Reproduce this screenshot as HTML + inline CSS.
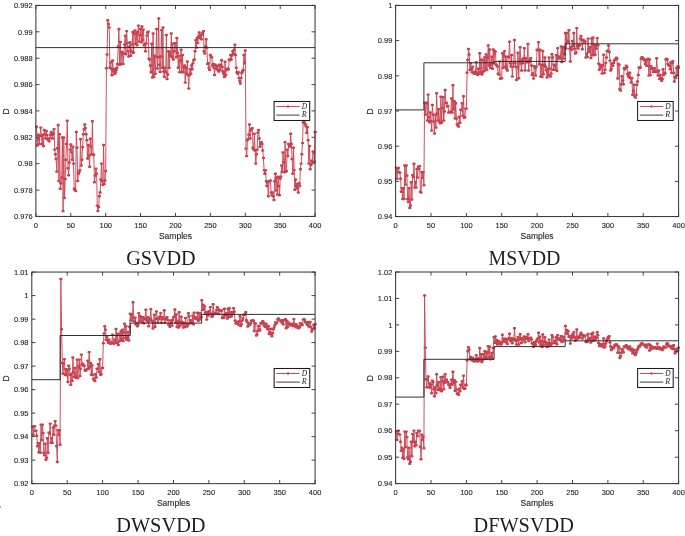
<!DOCTYPE html><html><head><meta charset="utf-8"><title>SVDD comparison</title><style>html,body{margin:0;padding:0;background:#fff}svg{display:block}</style></head><body><svg width="685" height="536" viewBox="0 0 685 536"><rect width="685" height="536" fill="#fff"/><g><polyline fill="none" stroke="#cc4856" stroke-width="0.95" stroke-linejoin="round" points="36.5,126.8 37.2,145.5 37.9,134.7 38.6,139.3 39.3,144.0 40.0,135.8 40.7,127.6 41.4,135.8 42.1,144.0 42.8,134.7 43.5,145.9 44.2,130.0 44.9,134.2 45.6,138.4 46.3,130.9 47.0,135.1 47.7,139.3 48.4,140.3 49.1,141.2 49.8,137.9 50.5,134.7 51.2,131.9 51.9,135.1 52.6,138.4 53.3,133.7 54.0,129.1 54.7,149.6 55.4,154.2 56.1,158.9 56.8,171.6 57.5,148.3 58.2,125.0 58.9,180.9 59.6,134.3 60.3,188.8 61.0,183.2 61.7,177.6 62.4,137.5 63.1,211.1 63.8,137.5 64.5,198.1 65.2,179.0 65.9,159.8 66.6,144.0 67.3,120.7 68.0,168.2 68.7,175.3 69.4,162.5 70.1,149.6 70.8,144.4 71.5,152.1 72.2,159.8 72.9,146.8 73.5,163.6 74.2,188.8 74.9,189.9 75.6,191.0 76.3,131.9 77.0,147.7 77.7,180.9 78.4,173.8 79.1,172.0 79.8,170.1 80.5,139.3 81.2,165.4 81.9,159.8 82.6,147.1 83.3,134.3 84.0,129.3 84.7,124.4 85.4,128.1 86.1,134.2 86.8,140.3 87.5,158.5 88.2,144.9 88.9,155.8 89.6,166.7 90.3,138.8 91.0,146.5 91.7,154.2 92.4,121.2 93.1,154.8 93.8,154.8 94.5,182.2 95.2,175.5 95.9,168.8 96.6,173.8 97.3,205.6 98.0,211.1 98.7,207.0 99.4,196.2 100.1,192.5 100.8,179.4 101.5,163.6 102.2,181.3 102.9,184.7 103.6,144.9 104.3,184.1 105.0,180.4 105.7,171.0 106.4,68.2 107.1,54.5 107.8,20.2 108.5,23.9 109.2,27.5 109.9,67.7 110.5,62.5 111.2,68.8 111.9,75.2 112.6,60.5 113.3,71.4 114.0,68.9 114.7,73.7 115.4,72.2 116.1,69.9 116.8,67.7 117.5,64.0 118.2,46.4 118.9,28.9 119.6,64.7 120.3,42.0 121.0,64.0 121.7,52.0 122.4,52.8 123.1,64.0 123.8,53.5 124.5,44.6 125.2,35.6 125.9,54.3 126.6,31.1 127.3,43.1 128.0,51.3 128.7,56.5 129.4,46.8 130.1,42.3 130.8,55.8 131.5,51.3 132.2,44.6 132.9,31.9 133.6,52.8 134.3,34.1 135.0,30.4 135.7,43.8 136.4,33.4 137.1,45.3 137.8,31.9 138.5,25.6 139.2,41.6 139.9,34.9 140.6,28.9 141.3,42.3 142.0,26.4 142.7,40.1 143.4,29.6 144.1,45.3 144.8,43.8 145.5,51.3 146.2,43.4 146.9,35.6 147.6,32.6 148.2,31.6 148.9,58.7 149.6,59.5 150.3,65.5 151.0,72.2 151.7,43.8 152.4,77.4 153.1,33.4 153.8,76.7 154.5,55.8 155.2,73.7 155.9,56.5 156.6,28.9 157.3,68.4 158.0,57.3 158.7,18.4 159.4,64.7 160.1,71.9 160.8,56.5 161.5,30.1 162.2,67.7 162.9,27.4 163.6,71.4 164.3,76.7 165.0,67.7 165.7,72.2 166.4,34.9 167.1,78.9 167.8,74.4 168.5,51.3 169.2,67.7 169.9,52.8 170.6,55.8 171.3,33.4 172.0,57.3 172.7,43.8 173.4,59.5 174.1,51.3 174.8,43.1 175.5,43.1 176.2,57.3 176.9,37.9 177.6,52.8 178.3,67.7 179.0,55.8 179.7,72.2 180.4,60.2 181.1,49.8 181.8,72.2 182.5,55.0 183.2,72.2 183.9,67.0 184.6,65.5 185.2,82.6 185.9,67.7 186.6,73.7 187.3,61.4 188.0,75.2 188.7,88.6 189.4,75.2 190.1,69.2 190.8,73.7 191.5,65.5 192.2,69.2 192.9,63.2 193.6,60.2 194.3,59.5 195.0,51.3 195.7,40.1 196.4,47.6 197.1,37.9 197.8,43.1 198.5,36.4 199.2,32.6 199.9,37.9 200.6,34.9 201.3,39.3 202.0,34.6 202.7,32.9 203.4,31.1 204.1,51.3 204.8,53.5 205.5,46.8 206.2,39.3 206.9,47.6 207.6,64.0 208.3,63.2 209.0,67.7 209.7,69.9 210.4,55.0 211.1,56.5 211.8,57.3 212.5,65.5 213.2,64.0 213.9,67.7 214.6,74.9 215.3,64.7 216.0,65.5 216.7,69.2 217.4,66.2 218.1,69.9 218.8,71.4 219.5,64.7 220.2,69.9 220.9,65.1 221.6,60.2 222.2,67.0 222.9,71.4 223.6,73.7 224.3,77.0 225.0,61.7 225.7,75.2 226.4,69.2 227.1,69.9 227.8,68.4 228.5,69.2 229.2,59.5 229.9,60.2 230.6,55.0 231.3,59.5 232.0,55.4 232.7,51.3 233.4,53.5 234.1,49.8 234.8,44.6 235.5,55.0 236.2,67.7 236.9,72.2 237.6,73.7 238.3,72.2 239.0,78.1 239.7,81.1 240.4,83.4 241.1,78.1 241.8,72.9 242.5,71.4 243.2,69.9 243.9,55.0 244.6,63.2 245.3,50.5 246.0,148.6 246.7,156.1 247.4,140.3 248.1,139.3 248.8,134.7 249.5,124.4 250.2,138.4 250.9,130.0 251.6,129.1 252.3,128.1 253.0,147.7 253.7,149.6 254.4,133.7 255.1,150.5 255.8,163.6 256.5,154.2 257.2,149.6 257.9,132.8 258.6,130.0 259.2,138.4 259.9,146.8 260.6,144.0 261.3,142.1 262.0,144.0 262.7,150.5 263.4,158.0 264.1,170.1 264.8,173.8 265.5,170.1 266.2,181.3 266.9,186.0 267.6,182.2 268.3,196.2 269.0,181.3 269.7,180.8 270.4,180.4 271.1,192.5 271.8,195.3 272.5,192.5 273.2,196.2 273.9,200.0 274.6,181.3 275.3,173.8 276.0,190.6 276.7,177.6 277.4,194.4 278.1,176.6 278.8,186.0 279.5,195.3 280.2,178.5 280.9,176.6 281.6,165.4 282.3,172.0 283.0,152.4 283.7,162.2 284.4,172.0 285.1,142.1 285.8,172.0 286.5,171.0 287.2,149.6 287.9,156.1 288.6,144.0 289.3,145.4 290.0,146.8 290.7,133.7 291.4,144.0 292.1,158.9 292.8,173.8 293.5,147.7 294.2,170.1 294.9,189.7 295.6,179.4 296.3,186.0 296.9,184.1 297.6,188.3 298.3,192.5 299.0,183.2 299.7,186.0 300.4,169.2 301.1,163.6 301.8,154.2 302.5,143.1 303.2,122.5 303.9,121.6 304.6,123.0 305.3,124.4 306.0,126.3 306.7,132.8 307.4,127.2 308.1,140.3 308.8,163.6 309.5,145.9 310.2,169.2 310.9,165.0 311.6,160.8 312.3,161.7 313.0,151.4 313.7,152.4 314.4,161.7 315.1,132.0"/><path d="M36.1 126.8h.9M36.8 145.5h.9M37.5 134.7h.9M38.2 139.3h.9M38.9 144.0h.9M39.6 135.8h.9M40.3 127.6h.9M41.0 135.8h.9M41.7 144.0h.9M42.4 134.7h.9M43.1 145.9h.9M43.8 130.0h.9M44.5 134.2h.9M45.2 138.4h.9M45.9 130.9h.9M46.6 135.1h.9M47.3 139.3h.9M48.0 140.3h.9M48.7 141.2h.9M49.4 137.9h.9M50.1 134.7h.9M50.8 131.9h.9M51.5 135.1h.9M52.2 138.4h.9M52.9 133.7h.9M53.6 129.1h.9M54.2 149.6h.9M54.9 154.2h.9M55.6 158.9h.9M56.3 171.6h.9M57.0 148.3h.9M57.7 125.0h.9M58.4 180.9h.9M59.1 134.3h.9M59.8 188.8h.9M60.5 183.2h.9M61.2 177.6h.9M61.9 137.5h.9M62.6 211.1h.9M63.3 137.5h.9M64.0 198.1h.9M64.7 179.0h.9M65.4 159.8h.9M66.1 144.0h.9M66.8 120.7h.9M67.5 168.2h.9M68.2 175.3h.9M68.9 162.5h.9M69.6 149.6h.9M70.3 144.4h.9M71.0 152.1h.9M71.7 159.8h.9M72.4 146.8h.9M73.1 163.6h.9M73.8 188.8h.9M74.5 189.9h.9M75.2 191.0h.9M75.9 131.9h.9M76.6 147.7h.9M77.3 180.9h.9M78.0 173.8h.9M78.7 172.0h.9M79.4 170.1h.9M80.1 139.3h.9M80.8 165.4h.9M81.5 159.8h.9M82.2 147.1h.9M82.9 134.3h.9M83.6 129.3h.9M84.3 124.4h.9M85.0 128.1h.9M85.7 134.2h.9M86.4 140.3h.9M87.1 158.5h.9M87.8 144.9h.9M88.5 155.8h.9M89.2 166.7h.9M89.9 138.8h.9M90.6 146.5h.9M91.2 154.2h.9M91.9 121.2h.9M92.6 154.8h.9M93.3 154.8h.9M94.0 182.2h.9M94.7 175.5h.9M95.4 168.8h.9M96.1 173.8h.9M96.8 205.6h.9M97.5 211.1h.9M98.2 207.0h.9M98.9 196.2h.9M99.6 192.5h.9M100.3 179.4h.9M101.0 163.6h.9M101.7 181.3h.9M102.4 184.7h.9M103.1 144.9h.9M103.8 184.1h.9M104.5 180.4h.9M105.2 171.0h.9M105.9 68.2h.9M106.6 54.5h.9M107.3 20.2h.9M108.0 23.9h.9M108.7 27.5h.9M109.4 67.7h.9M110.1 62.5h.9M110.8 68.8h.9M111.5 75.2h.9M112.2 60.5h.9M112.9 71.4h.9M113.6 68.9h.9M114.3 73.7h.9M115.0 72.2h.9M115.7 69.9h.9M116.4 67.7h.9M117.1 64.0h.9M117.8 46.4h.9M118.5 28.9h.9M119.2 64.7h.9M119.9 42.0h.9M120.6 64.0h.9M121.3 52.0h.9M122.0 52.8h.9M122.7 64.0h.9M123.4 53.5h.9M124.1 44.6h.9M124.8 35.6h.9M125.5 54.3h.9M126.2 31.1h.9M126.9 43.1h.9M127.6 51.3h.9M128.3 56.5h.9M128.9 46.8h.9M129.6 42.3h.9M130.3 55.8h.9M131.0 51.3h.9M131.7 44.6h.9M132.4 31.9h.9M133.1 52.8h.9M133.8 34.1h.9M134.5 30.4h.9M135.2 43.8h.9M135.9 33.4h.9M136.6 45.3h.9M137.3 31.9h.9M138.0 25.6h.9M138.7 41.6h.9M139.4 34.9h.9M140.1 28.9h.9M140.8 42.3h.9M141.5 26.4h.9M142.2 40.1h.9M142.9 29.6h.9M143.6 45.3h.9M144.3 43.8h.9M145.0 51.3h.9M145.7 43.4h.9M146.4 35.6h.9M147.1 32.6h.9M147.8 31.6h.9M148.5 58.7h.9M149.2 59.5h.9M149.9 65.5h.9M150.6 72.2h.9M151.3 43.8h.9M152.0 77.4h.9M152.7 33.4h.9M153.4 76.7h.9M154.1 55.8h.9M154.8 73.7h.9M155.5 56.5h.9M156.2 28.9h.9M156.9 68.4h.9M157.6 57.3h.9M158.3 18.4h.9M159.0 64.7h.9M159.7 71.9h.9M160.4 56.5h.9M161.1 30.1h.9M161.8 67.7h.9M162.5 27.4h.9M163.2 71.4h.9M163.9 76.7h.9M164.6 67.7h.9M165.3 72.2h.9M165.9 34.9h.9M166.6 78.9h.9M167.3 74.4h.9M168.0 51.3h.9M168.7 67.7h.9M169.4 52.8h.9M170.1 55.8h.9M170.8 33.4h.9M171.5 57.3h.9M172.2 43.8h.9M172.9 59.5h.9M173.6 51.3h.9M174.3 43.1h.9M175.0 43.1h.9M175.7 57.3h.9M176.4 37.9h.9M177.1 52.8h.9M177.8 67.7h.9M178.5 55.8h.9M179.2 72.2h.9M179.9 60.2h.9M180.6 49.8h.9M181.3 72.2h.9M182.0 55.0h.9M182.7 72.2h.9M183.4 67.0h.9M184.1 65.5h.9M184.8 82.6h.9M185.5 67.7h.9M186.2 73.7h.9M186.9 61.4h.9M187.6 75.2h.9M188.3 88.6h.9M189.0 75.2h.9M189.7 69.2h.9M190.4 73.7h.9M191.1 65.5h.9M191.8 69.2h.9M192.5 63.2h.9M193.2 60.2h.9M193.9 59.5h.9M194.6 51.3h.9M195.3 40.1h.9M196.0 47.6h.9M196.7 37.9h.9M197.4 43.1h.9M198.1 36.4h.9M198.8 32.6h.9M199.5 37.9h.9M200.2 34.9h.9M200.9 39.3h.9M201.6 34.6h.9M202.3 32.9h.9M203.0 31.1h.9M203.6 51.3h.9M204.3 53.5h.9M205.0 46.8h.9M205.7 39.3h.9M206.4 47.6h.9M207.1 64.0h.9M207.8 63.2h.9M208.5 67.7h.9M209.2 69.9h.9M209.9 55.0h.9M210.6 56.5h.9M211.3 57.3h.9M212.0 65.5h.9M212.7 64.0h.9M213.4 67.7h.9M214.1 74.9h.9M214.8 64.7h.9M215.5 65.5h.9M216.2 69.2h.9M216.9 66.2h.9M217.6 69.9h.9M218.3 71.4h.9M219.0 64.7h.9M219.7 69.9h.9M220.4 65.1h.9M221.1 60.2h.9M221.8 67.0h.9M222.5 71.4h.9M223.2 73.7h.9M223.9 77.0h.9M224.6 61.7h.9M225.3 75.2h.9M226.0 69.2h.9M226.7 69.9h.9M227.4 68.4h.9M228.1 69.2h.9M228.8 59.5h.9M229.5 60.2h.9M230.2 55.0h.9M230.9 59.5h.9M231.6 55.4h.9M232.3 51.3h.9M233.0 53.5h.9M233.7 49.8h.9M234.4 44.6h.9M235.1 55.0h.9M235.8 67.7h.9M236.5 72.2h.9M237.2 73.7h.9M237.9 72.2h.9M238.6 78.1h.9M239.3 81.1h.9M240.0 83.4h.9M240.6 78.1h.9M241.3 72.9h.9M242.0 71.4h.9M242.7 69.9h.9M243.4 55.0h.9M244.1 63.2h.9M244.8 50.5h.9M245.5 148.6h.9M246.2 156.1h.9M246.9 140.3h.9M247.6 139.3h.9M248.3 134.7h.9M249.0 124.4h.9M249.7 138.4h.9M250.4 130.0h.9M251.1 129.1h.9M251.8 128.1h.9M252.5 147.7h.9M253.2 149.6h.9M253.9 133.7h.9M254.6 150.5h.9M255.3 163.6h.9M256.0 154.2h.9M256.7 149.6h.9M257.4 132.8h.9M258.1 130.0h.9M258.8 138.4h.9M259.5 146.8h.9M260.2 144.0h.9M260.9 142.1h.9M261.6 144.0h.9M262.3 150.5h.9M263.0 158.0h.9M263.7 170.1h.9M264.4 173.8h.9M265.1 170.1h.9M265.8 181.3h.9M266.5 186.0h.9M267.2 182.2h.9M267.9 196.2h.9M268.6 181.3h.9M269.3 180.8h.9M270.0 180.4h.9M270.7 192.5h.9M271.4 195.3h.9M272.1 192.5h.9M272.8 196.2h.9M273.5 200.0h.9M274.2 181.3h.9M274.9 173.8h.9M275.6 190.6h.9M276.3 177.6h.9M277.0 194.4h.9M277.6 176.6h.9M278.3 186.0h.9M279.0 195.3h.9M279.7 178.5h.9M280.4 176.6h.9M281.1 165.4h.9M281.8 172.0h.9M282.5 152.4h.9M283.2 162.2h.9M283.9 172.0h.9M284.6 142.1h.9M285.3 172.0h.9M286.0 171.0h.9M286.7 149.6h.9M287.4 156.1h.9M288.1 144.0h.9M288.8 145.4h.9M289.5 146.8h.9M290.2 133.7h.9M290.9 144.0h.9M291.6 158.9h.9M292.3 173.8h.9M293.0 147.7h.9M293.7 170.1h.9M294.4 189.7h.9M295.1 179.4h.9M295.8 186.0h.9M296.5 184.1h.9M297.2 188.3h.9M297.9 192.5h.9M298.6 183.2h.9M299.3 186.0h.9M300.0 169.2h.9M300.7 163.6h.9M301.4 154.2h.9M302.1 143.1h.9M302.8 122.5h.9M303.5 121.6h.9M304.2 123.0h.9M304.9 124.4h.9M305.6 126.3h.9M306.3 132.8h.9M307.0 127.2h.9M307.7 140.3h.9M308.4 163.6h.9M309.1 145.9h.9M309.8 169.2h.9M310.5 165.0h.9M311.2 160.8h.9M311.9 161.7h.9M312.6 151.4h.9M313.3 152.4h.9M314.0 161.7h.9M314.7 132.0h.9" stroke="#c8414f" stroke-width="2.45" stroke-linecap="round" fill="none"/><polyline fill="none" stroke="#262626" stroke-width="0.95" points="35.9,47.6 315.1,47.6"/><rect x="35.85" y="5.45" width="279.2" height="211.0" fill="none" stroke="#3a3a3a" stroke-width="1.05"/><path d="M35.9 216.45v-3.6M35.9 5.45v3.6M70.8 216.45v-3.6M70.8 5.45v3.6M105.7 216.45v-3.6M105.7 5.45v3.6M140.6 216.45v-3.6M140.6 5.45v3.6M175.5 216.45v-3.6M175.5 5.45v3.6M210.4 216.45v-3.6M210.4 5.45v3.6M245.3 216.45v-3.6M245.3 5.45v3.6M280.2 216.45v-3.6M280.2 5.45v3.6M315.1 216.45v-3.6M315.1 5.45v3.6M35.85 216.4h3.6M315.1 216.4h-3.6M35.85 190.1h3.6M315.1 190.1h-3.6M35.85 163.7h3.6M315.1 163.7h-3.6M35.85 137.3h3.6M315.1 137.3h-3.6M35.85 110.9h3.6M315.1 110.9h-3.6M35.85 84.6h3.6M315.1 84.6h-3.6M35.85 58.2h3.6M315.1 58.2h-3.6M35.85 31.8h3.6M315.1 31.8h-3.6M35.85 5.4h3.6M315.1 5.4h-3.6" stroke="#3a3a3a" stroke-width="0.95" fill="none"/><g font-family="Liberation Sans, Arial, sans-serif" font-size="7.75" fill="#262626" stroke="#262626" stroke-width="0.12"><text transform="translate(35.9 227.9) scale(0.965 1)" text-anchor="middle">0</text><text transform="translate(70.8 227.9) scale(0.965 1)" text-anchor="middle">50</text><text transform="translate(105.7 227.9) scale(0.965 1)" text-anchor="middle">100</text><text transform="translate(140.6 227.9) scale(0.965 1)" text-anchor="middle">150</text><text transform="translate(175.5 227.9) scale(0.965 1)" text-anchor="middle">200</text><text transform="translate(210.4 227.9) scale(0.965 1)" text-anchor="middle">250</text><text transform="translate(245.3 227.9) scale(0.965 1)" text-anchor="middle">300</text><text transform="translate(280.2 227.9) scale(0.965 1)" text-anchor="middle">350</text><text transform="translate(315.1 227.9) scale(0.965 1)" text-anchor="middle">400</text><text transform="translate(32.6 219.1) scale(0.965 1)" text-anchor="end">0.976</text><text transform="translate(32.6 192.7) scale(0.965 1)" text-anchor="end">0.978</text><text transform="translate(32.6 166.3) scale(0.965 1)" text-anchor="end">0.98</text><text transform="translate(32.6 140.0) scale(0.965 1)" text-anchor="end">0.982</text><text transform="translate(32.6 113.6) scale(0.965 1)" text-anchor="end">0.984</text><text transform="translate(32.6 87.2) scale(0.965 1)" text-anchor="end">0.986</text><text transform="translate(32.6 60.8) scale(0.965 1)" text-anchor="end">0.988</text><text transform="translate(32.6 34.5) scale(0.965 1)" text-anchor="end">0.99</text><text transform="translate(32.6 8.1) scale(0.965 1)" text-anchor="end">0.992</text><text x="175.5" y="238.5" text-anchor="middle" font-size="8.5">Samples</text><text transform="translate(9.0 111.4) rotate(-90)" text-anchor="middle" font-size="9">D</text></g><rect x="274.1" y="101.5" width="35.6" height="19" fill="#fff" stroke="#1a1a1a" stroke-width="1.05"/><path d="M276.3 106.5h23.4" stroke="#c8414f" stroke-width="0.95"/><circle cx="288.0" cy="106.5" r="1.2" fill="#c8414f"/><path d="M276.3 115.1h23.4" stroke="#333" stroke-width="0.95"/><g font-family="Liberation Serif, serif" font-style="italic" font-size="7.3" fill="#1e1e1e"><text x="301.80" y="108.70" textLength="5.4" lengthAdjust="spacingAndGlyphs">D</text><text x="301.80" y="117.20" textLength="4.9" lengthAdjust="spacingAndGlyphs">R</text></g><text x="126.2" y="264.9" textLength="69.5" lengthAdjust="spacingAndGlyphs" font-family="Liberation Serif, serif" font-size="20.1" fill="#1e1e1e">GSVDD</text></g><g><polyline fill="none" stroke="#cc4856" stroke-width="0.95" stroke-linejoin="round" points="396.3,167.7 397.0,178.7 397.7,167.9 398.4,167.9 399.1,172.1 399.8,172.7 400.6,178.7 401.3,191.8 402.0,188.2 402.7,199.0 403.4,188.2 404.1,199.0 404.8,165.5 405.5,184.6 406.2,165.5 406.9,175.7 407.6,199.0 408.3,201.9 409.0,188.2 409.8,207.9 410.5,205.5 411.2,182.2 411.9,199.6 412.6,175.1 413.3,176.9 414.0,163.7 414.7,187.6 415.4,182.2 416.1,187.6 416.8,169.1 417.5,177.5 418.2,166.7 418.9,169.1 419.7,166.1 420.4,191.8 421.1,192.4 421.8,172.1 422.5,178.1 423.2,172.1 423.9,185.2 424.6,102.7 425.3,114.6 426.0,103.2 426.7,102.7 427.4,120.5 428.1,94.6 428.9,117.3 429.6,122.2 430.3,112.4 431.0,121.1 431.7,130.6 432.4,104.9 433.1,114.6 433.8,121.6 434.5,133.5 435.2,114.6 435.9,127.6 436.6,93.2 437.3,113.5 438.1,120.5 438.8,109.2 439.5,121.6 440.2,123.2 440.9,96.8 441.6,122.7 442.3,108.1 443.0,97.3 443.7,120.5 444.4,111.4 445.1,89.9 445.8,103.2 446.5,102.7 447.2,106.5 448.0,105.9 448.7,112.4 449.4,112.4 450.1,112.4 450.8,111.4 451.5,98.4 452.2,112.4 452.9,85.2 453.6,109.2 454.3,101.1 455.0,118.4 455.7,103.2 456.4,118.4 457.2,124.3 457.9,125.4 458.6,126.5 459.3,116.8 460.0,122.7 460.7,109.7 461.4,110.3 462.1,103.2 462.8,115.7 463.5,96.2 464.2,117.8 464.9,117.3 465.6,108.6 466.4,108.6 467.1,72.7 467.8,60.0 468.5,48.9 469.2,54.4 469.9,70.0 470.6,63.3 471.3,68.8 472.0,72.2 472.7,66.6 473.4,72.7 474.1,73.8 474.8,73.3 475.5,71.6 476.3,62.2 477.0,73.8 477.7,75.0 478.4,68.8 479.1,72.7 479.8,53.3 480.5,73.8 481.2,59.4 481.9,74.4 482.6,72.2 483.3,60.0 484.0,71.1 484.7,57.2 485.5,68.3 486.2,54.4 486.9,70.0 487.6,57.7 488.3,45.5 489.0,65.5 489.7,49.4 490.4,67.7 491.1,64.4 491.8,56.6 492.5,68.8 493.2,49.4 493.9,63.3 494.7,51.1 495.4,51.6 496.1,64.4 496.8,65.5 497.5,66.6 498.2,73.8 498.9,74.4 499.6,61.6 500.3,78.8 501.0,78.3 501.7,78.3 502.4,53.3 503.1,67.7 503.8,55.5 504.6,51.1 505.3,66.6 506.0,56.6 506.7,68.8 507.4,70.5 508.1,56.6 508.8,57.2 509.5,41.7 510.2,63.3 510.9,66.6 511.6,55.0 512.3,76.6 513.0,66.6 513.8,63.3 514.5,40.0 515.2,63.3 515.9,66.6 516.6,79.9 517.3,67.2 518.0,52.8 518.7,78.3 519.4,61.6 520.1,47.2 520.8,63.3 521.5,70.5 522.2,59.4 523.0,63.3 523.7,58.3 524.4,48.3 525.1,70.5 525.8,58.3 526.5,61.6 527.2,62.2 527.9,43.9 528.6,70.5 529.3,62.2 530.0,60.0 530.7,58.3 531.4,65.5 532.1,75.0 532.9,73.3 533.6,78.6 534.3,66.1 535.0,67.7 535.7,75.5 536.4,66.6 537.1,49.7 537.8,50.3 538.5,42.2 539.2,64.2 539.9,49.7 540.6,76.4 541.3,64.7 542.1,76.9 542.8,50.9 543.5,74.2 544.2,65.3 544.9,57.5 545.6,66.4 546.3,70.3 547.0,77.5 547.7,68.6 548.4,75.3 549.1,57.5 549.8,68.6 550.5,76.4 551.2,73.6 552.0,54.2 552.7,57.5 553.4,69.7 554.1,64.7 554.8,65.8 555.5,69.7 556.2,55.3 556.9,70.8 557.6,48.1 558.3,58.6 559.0,56.4 559.7,58.1 560.4,58.6 561.2,46.4 561.9,62.0 562.6,47.0 563.3,58.6 564.0,47.5 564.7,54.2 565.4,33.1 566.1,48.6 566.8,33.1 567.5,42.0 568.2,41.4 568.9,30.3 569.6,48.6 570.4,61.4 571.1,47.0 571.8,49.7 572.5,40.9 573.2,45.9 573.9,33.1 574.6,48.6 575.3,53.6 576.0,52.5 576.7,28.1 577.4,45.9 578.1,48.6 578.8,45.9 579.5,45.3 580.3,38.6 581.0,35.9 581.7,39.8 582.4,49.2 583.1,39.8 583.8,40.3 584.5,42.0 585.2,41.4 585.9,57.5 586.6,53.6 587.3,57.0 588.0,38.6 588.7,49.2 589.5,52.0 590.2,47.0 590.9,58.1 591.6,38.6 592.3,55.3 593.0,37.5 593.7,55.3 594.4,45.3 595.1,54.7 595.8,45.9 596.5,48.6 597.2,38.1 597.9,45.3 598.7,63.6 599.4,69.7 600.1,64.7 600.8,67.5 601.5,65.8 602.2,73.6 602.9,65.3 603.6,54.7 604.3,73.1 605.0,69.7 605.7,63.1 606.4,57.5 607.1,50.9 607.9,50.7 608.6,45.5 609.3,51.9 610.0,60.6 610.7,70.4 611.4,68.7 612.1,63.4 612.8,65.8 613.5,62.9 614.2,60.6 614.9,59.4 615.6,59.4 616.3,57.7 617.0,58.8 617.8,78.5 618.5,64.0 619.2,64.6 619.9,88.9 620.6,90.6 621.3,84.3 622.0,76.2 622.7,80.8 623.4,84.3 624.1,68.1 624.8,69.2 625.5,68.1 626.2,65.8 627.0,66.9 627.7,73.9 628.4,76.2 629.1,77.3 629.8,72.7 630.5,77.9 631.2,82.5 631.9,77.9 632.6,94.7 633.3,91.2 634.0,84.8 634.7,96.4 635.4,97.6 636.2,94.7 636.9,84.8 637.6,81.4 638.3,75.0 639.0,67.5 639.7,68.1 640.4,67.5 641.1,58.8 641.8,57.1 642.5,57.7 643.2,58.8 643.9,59.4 644.6,60.6 645.3,64.0 646.1,60.0 646.8,65.8 647.5,59.4 648.2,58.8 648.9,75.6 649.6,59.4 650.3,75.0 651.0,66.3 651.7,68.7 652.4,68.1 653.1,72.1 653.8,69.2 654.5,68.1 655.3,71.5 656.0,72.1 656.7,58.2 657.4,71.0 658.1,75.6 658.8,70.4 659.5,79.1 660.2,75.0 660.9,77.9 661.6,80.8 662.3,79.1 663.0,69.2 663.7,75.0 664.5,72.7 665.2,73.3 665.9,59.4 666.6,58.8 667.3,59.4 668.0,64.0 668.7,65.2 669.4,65.8 670.1,69.2 670.8,62.3 671.5,72.7 672.2,62.9 672.9,61.1 673.6,72.7 674.4,81.4 675.1,77.3 675.8,77.9 676.5,68.1 677.2,75.0 677.9,66.3 678.6,67.5"/><path d="M395.9 167.7h.9M396.6 178.7h.9M397.3 167.9h.9M398.0 167.9h.9M398.7 172.1h.9M399.4 172.7h.9M400.1 178.7h.9M400.8 191.8h.9M401.5 188.2h.9M402.2 199.0h.9M402.9 188.2h.9M403.6 199.0h.9M404.3 165.5h.9M405.1 184.6h.9M405.8 165.5h.9M406.5 175.7h.9M407.2 199.0h.9M407.9 201.9h.9M408.6 188.2h.9M409.3 207.9h.9M410.0 205.5h.9M410.7 182.2h.9M411.4 199.6h.9M412.1 175.1h.9M412.8 176.9h.9M413.5 163.7h.9M414.3 187.6h.9M415.0 182.2h.9M415.7 187.6h.9M416.4 169.1h.9M417.1 177.5h.9M417.8 166.7h.9M418.5 169.1h.9M419.2 166.1h.9M419.9 191.8h.9M420.6 192.4h.9M421.3 172.1h.9M422.0 178.1h.9M422.7 172.1h.9M423.5 185.2h.9M424.2 102.7h.9M424.9 114.6h.9M425.6 103.2h.9M426.3 102.7h.9M427.0 120.5h.9M427.7 94.6h.9M428.4 117.3h.9M429.1 122.2h.9M429.8 112.4h.9M430.5 121.1h.9M431.2 130.6h.9M431.9 104.9h.9M432.6 114.6h.9M433.4 121.6h.9M434.1 133.5h.9M434.8 114.6h.9M435.5 127.6h.9M436.2 93.2h.9M436.9 113.5h.9M437.6 120.5h.9M438.3 109.2h.9M439.0 121.6h.9M439.7 123.2h.9M440.4 96.8h.9M441.1 122.7h.9M441.8 108.1h.9M442.6 97.3h.9M443.3 120.5h.9M444.0 111.4h.9M444.7 89.9h.9M445.4 103.2h.9M446.1 102.7h.9M446.8 106.5h.9M447.5 105.9h.9M448.2 112.4h.9M448.9 112.4h.9M449.6 112.4h.9M450.3 111.4h.9M451.0 98.4h.9M451.8 112.4h.9M452.5 85.2h.9M453.2 109.2h.9M453.9 101.1h.9M454.6 118.4h.9M455.3 103.2h.9M456.0 118.4h.9M456.7 124.3h.9M457.4 125.4h.9M458.1 126.5h.9M458.8 116.8h.9M459.5 122.7h.9M460.2 109.7h.9M460.9 110.3h.9M461.7 103.2h.9M462.4 115.7h.9M463.1 96.2h.9M463.8 117.8h.9M464.5 117.3h.9M465.2 108.6h.9M465.9 108.6h.9M466.6 72.7h.9M467.3 60.0h.9M468.0 48.9h.9M468.7 54.4h.9M469.4 70.0h.9M470.1 63.3h.9M470.9 68.8h.9M471.6 72.2h.9M472.3 66.6h.9M473.0 72.7h.9M473.7 73.8h.9M474.4 73.3h.9M475.1 71.6h.9M475.8 62.2h.9M476.5 73.8h.9M477.2 75.0h.9M477.9 68.8h.9M478.6 72.7h.9M479.3 53.3h.9M480.1 73.8h.9M480.8 59.4h.9M481.5 74.4h.9M482.2 72.2h.9M482.9 60.0h.9M483.6 71.1h.9M484.3 57.2h.9M485.0 68.3h.9M485.7 54.4h.9M486.4 70.0h.9M487.1 57.7h.9M487.8 45.5h.9M488.5 65.5h.9M489.2 49.4h.9M490.0 67.7h.9M490.7 64.4h.9M491.4 56.6h.9M492.1 68.8h.9M492.8 49.4h.9M493.5 63.3h.9M494.2 51.1h.9M494.9 51.6h.9M495.6 64.4h.9M496.3 65.5h.9M497.0 66.6h.9M497.7 73.8h.9M498.4 74.4h.9M499.2 61.6h.9M499.9 78.8h.9M500.6 78.3h.9M501.3 78.3h.9M502.0 53.3h.9M502.7 67.7h.9M503.4 55.5h.9M504.1 51.1h.9M504.8 66.6h.9M505.5 56.6h.9M506.2 68.8h.9M506.9 70.5h.9M507.6 56.6h.9M508.4 57.2h.9M509.1 41.7h.9M509.8 63.3h.9M510.5 66.6h.9M511.2 55.0h.9M511.9 76.6h.9M512.6 66.6h.9M513.3 63.3h.9M514.0 40.0h.9M514.7 63.3h.9M515.4 66.6h.9M516.1 79.9h.9M516.8 67.2h.9M517.5 52.8h.9M518.3 78.3h.9M519.0 61.6h.9M519.7 47.2h.9M520.4 63.3h.9M521.1 70.5h.9M521.8 59.4h.9M522.5 63.3h.9M523.2 58.3h.9M523.9 48.3h.9M524.6 70.5h.9M525.3 58.3h.9M526.0 61.6h.9M526.7 62.2h.9M527.5 43.9h.9M528.2 70.5h.9M528.9 62.2h.9M529.6 60.0h.9M530.3 58.3h.9M531.0 65.5h.9M531.7 75.0h.9M532.4 73.3h.9M533.1 78.6h.9M533.8 66.1h.9M534.5 67.7h.9M535.2 75.5h.9M535.9 66.6h.9M536.6 49.7h.9M537.4 50.3h.9M538.1 42.2h.9M538.8 64.2h.9M539.5 49.7h.9M540.2 76.4h.9M540.9 64.7h.9M541.6 76.9h.9M542.3 50.9h.9M543.0 74.2h.9M543.7 65.3h.9M544.4 57.5h.9M545.1 66.4h.9M545.8 70.3h.9M546.6 77.5h.9M547.3 68.6h.9M548.0 75.3h.9M548.7 57.5h.9M549.4 68.6h.9M550.1 76.4h.9M550.8 73.6h.9M551.5 54.2h.9M552.2 57.5h.9M552.9 69.7h.9M553.6 64.7h.9M554.3 65.8h.9M555.0 69.7h.9M555.8 55.3h.9M556.5 70.8h.9M557.2 48.1h.9M557.9 58.6h.9M558.6 56.4h.9M559.3 58.1h.9M560.0 58.6h.9M560.7 46.4h.9M561.4 62.0h.9M562.1 47.0h.9M562.8 58.6h.9M563.5 47.5h.9M564.2 54.2h.9M565.0 33.1h.9M565.7 48.6h.9M566.4 33.1h.9M567.1 42.0h.9M567.8 41.4h.9M568.5 30.3h.9M569.2 48.6h.9M569.9 61.4h.9M570.6 47.0h.9M571.3 49.7h.9M572.0 40.9h.9M572.7 45.9h.9M573.4 33.1h.9M574.1 48.6h.9M574.9 53.6h.9M575.6 52.5h.9M576.3 28.1h.9M577.0 45.9h.9M577.7 48.6h.9M578.4 45.9h.9M579.1 45.3h.9M579.8 38.6h.9M580.5 35.9h.9M581.2 39.8h.9M581.9 49.2h.9M582.6 39.8h.9M583.3 40.3h.9M584.1 42.0h.9M584.8 41.4h.9M585.5 57.5h.9M586.2 53.6h.9M586.9 57.0h.9M587.6 38.6h.9M588.3 49.2h.9M589.0 52.0h.9M589.7 47.0h.9M590.4 58.1h.9M591.1 38.6h.9M591.8 55.3h.9M592.5 37.5h.9M593.2 55.3h.9M594.0 45.3h.9M594.7 54.7h.9M595.4 45.9h.9M596.1 48.6h.9M596.8 38.1h.9M597.5 45.3h.9M598.2 63.6h.9M598.9 69.7h.9M599.6 64.7h.9M600.3 67.5h.9M601.0 65.8h.9M601.7 73.6h.9M602.4 65.3h.9M603.2 54.7h.9M603.9 73.1h.9M604.6 69.7h.9M605.3 63.1h.9M606.0 57.5h.9M606.7 50.9h.9M607.4 50.7h.9M608.1 45.5h.9M608.8 51.9h.9M609.5 60.6h.9M610.2 70.4h.9M610.9 68.7h.9M611.6 63.4h.9M612.4 65.8h.9M613.1 62.9h.9M613.8 60.6h.9M614.5 59.4h.9M615.2 59.4h.9M615.9 57.7h.9M616.6 58.8h.9M617.3 78.5h.9M618.0 64.0h.9M618.7 64.6h.9M619.4 88.9h.9M620.1 90.6h.9M620.8 84.3h.9M621.5 76.2h.9M622.3 80.8h.9M623.0 84.3h.9M623.7 68.1h.9M624.4 69.2h.9M625.1 68.1h.9M625.8 65.8h.9M626.5 66.9h.9M627.2 73.9h.9M627.9 76.2h.9M628.6 77.3h.9M629.3 72.7h.9M630.0 77.9h.9M630.7 82.5h.9M631.5 77.9h.9M632.2 94.7h.9M632.9 91.2h.9M633.6 84.8h.9M634.3 96.4h.9M635.0 97.6h.9M635.7 94.7h.9M636.4 84.8h.9M637.1 81.4h.9M637.8 75.0h.9M638.5 67.5h.9M639.2 68.1h.9M639.9 67.5h.9M640.7 58.8h.9M641.4 57.1h.9M642.1 57.7h.9M642.8 58.8h.9M643.5 59.4h.9M644.2 60.6h.9M644.9 64.0h.9M645.6 60.0h.9M646.3 65.8h.9M647.0 59.4h.9M647.7 58.8h.9M648.4 75.6h.9M649.1 59.4h.9M649.8 75.0h.9M650.6 66.3h.9M651.3 68.7h.9M652.0 68.1h.9M652.7 72.1h.9M653.4 69.2h.9M654.1 68.1h.9M654.8 71.5h.9M655.5 72.1h.9M656.2 58.2h.9M656.9 71.0h.9M657.6 75.6h.9M658.3 70.4h.9M659.0 79.1h.9M659.8 75.0h.9M660.5 77.9h.9M661.2 80.8h.9M661.9 79.1h.9M662.6 69.2h.9M663.3 75.0h.9M664.0 72.7h.9M664.7 73.3h.9M665.4 59.4h.9M666.1 58.8h.9M666.8 59.4h.9M667.5 64.0h.9M668.2 65.2h.9M669.0 65.8h.9M669.7 69.2h.9M670.4 62.3h.9M671.1 72.7h.9M671.8 62.9h.9M672.5 61.1h.9M673.2 72.7h.9M673.9 81.4h.9M674.6 77.3h.9M675.3 77.9h.9M676.0 68.1h.9M676.7 75.0h.9M677.4 66.3h.9M678.1 67.5h.9" stroke="#c8414f" stroke-width="2.45" stroke-linecap="round" fill="none"/><polyline fill="none" stroke="#262626" stroke-width="0.95" points="395.6,109.9 423.9,109.9 423.9,62.8 494.1,62.8 494.1,61.4 565.2,61.4 565.2,43.8 678.6,43.8"/><rect x="395.6" y="5.45" width="283.0" height="211.1" fill="none" stroke="#3a3a3a" stroke-width="1.05"/><path d="M395.6 216.55v-3.6M395.6 5.45v3.6M431.0 216.55v-3.6M431.0 5.45v3.6M466.4 216.55v-3.6M466.4 5.45v3.6M501.7 216.55v-3.6M501.7 5.45v3.6M537.1 216.55v-3.6M537.1 5.45v3.6M572.5 216.55v-3.6M572.5 5.45v3.6M607.9 216.55v-3.6M607.9 5.45v3.6M643.2 216.55v-3.6M643.2 5.45v3.6M678.6 216.55v-3.6M678.6 5.45v3.6M395.6 216.6h3.6M678.6 216.6h-3.6M395.6 181.4h3.6M678.6 181.4h-3.6M395.6 146.2h3.6M678.6 146.2h-3.6M395.6 111.0h3.6M678.6 111.0h-3.6M395.6 75.8h3.6M678.6 75.8h-3.6M395.6 40.6h3.6M678.6 40.6h-3.6M395.6 5.4h3.6M678.6 5.4h-3.6" stroke="#3a3a3a" stroke-width="0.95" fill="none"/><g font-family="Liberation Sans, Arial, sans-serif" font-size="7.75" fill="#262626" stroke="#262626" stroke-width="0.12"><text transform="translate(395.6 228.0) scale(0.965 1)" text-anchor="middle">0</text><text transform="translate(431.0 228.0) scale(0.965 1)" text-anchor="middle">50</text><text transform="translate(466.4 228.0) scale(0.965 1)" text-anchor="middle">100</text><text transform="translate(501.7 228.0) scale(0.965 1)" text-anchor="middle">150</text><text transform="translate(537.1 228.0) scale(0.965 1)" text-anchor="middle">200</text><text transform="translate(572.5 228.0) scale(0.965 1)" text-anchor="middle">250</text><text transform="translate(607.9 228.0) scale(0.965 1)" text-anchor="middle">300</text><text transform="translate(643.2 228.0) scale(0.965 1)" text-anchor="middle">350</text><text transform="translate(678.6 228.0) scale(0.965 1)" text-anchor="middle">400</text><text transform="translate(392.3 219.2) scale(0.965 1)" text-anchor="end">0.94</text><text transform="translate(392.3 184.0) scale(0.965 1)" text-anchor="end">0.95</text><text transform="translate(392.3 148.8) scale(0.965 1)" text-anchor="end">0.96</text><text transform="translate(392.3 113.7) scale(0.965 1)" text-anchor="end">0.97</text><text transform="translate(392.3 78.5) scale(0.965 1)" text-anchor="end">0.98</text><text transform="translate(392.3 43.3) scale(0.965 1)" text-anchor="end">0.99</text><text transform="translate(392.3 8.1) scale(0.965 1)" text-anchor="end">1</text><text x="537.1" y="238.7" text-anchor="middle" font-size="8.5">Samples</text><text transform="translate(372.5 111.5) rotate(-90)" text-anchor="middle" font-size="9">D</text></g><rect x="637.6" y="101.5" width="35.6" height="19" fill="#fff" stroke="#1a1a1a" stroke-width="1.05"/><path d="M639.8000000000001 106.5h23.4" stroke="#c8414f" stroke-width="0.95"/><circle cx="651.5" cy="106.5" r="1.2" fill="#c8414f"/><path d="M639.8000000000001 115.1h23.4" stroke="#333" stroke-width="0.95"/><g font-family="Liberation Serif, serif" font-style="italic" font-size="7.3" fill="#1e1e1e"><text x="665.30" y="108.70" textLength="5.4" lengthAdjust="spacingAndGlyphs">D</text><text x="665.30" y="117.20" textLength="4.9" lengthAdjust="spacingAndGlyphs">R</text></g><text x="488.6" y="264.9" textLength="71.8" lengthAdjust="spacingAndGlyphs" font-family="Liberation Serif, serif" font-size="20.1" fill="#1e1e1e">MSVDD</text></g><g><polyline fill="none" stroke="#cc4856" stroke-width="0.95" stroke-linejoin="round" points="32.5,426.6 33.2,434.7 33.9,426.3 34.6,426.1 35.3,431.1 36.1,430.6 36.8,435.7 37.5,446.2 38.2,443.2 38.9,452.3 39.6,443.2 40.3,452.8 41.0,424.6 41.7,440.2 42.4,424.6 43.1,433.1 43.8,452.8 44.6,455.3 45.3,443.7 46.0,459.8 46.7,457.8 47.4,438.2 48.1,452.8 48.8,432.6 49.5,433.6 50.2,423.6 50.9,442.7 51.6,438.2 52.3,442.7 53.1,427.6 53.8,434.7 54.5,425.6 55.2,421.1 55.9,425.6 56.6,446.2 57.3,461.9 58.0,430.1 58.7,434.7 59.4,430.1 60.1,444.7 60.8,279.0 61.6,329.2 62.3,363.0 63.0,373.6 63.7,363.6 64.4,359.3 65.1,374.7 65.8,369.1 66.5,375.3 67.2,369.7 67.9,382.0 68.6,365.8 69.3,368.6 70.1,374.7 70.8,384.8 71.5,373.6 72.2,380.9 72.9,357.4 73.6,372.5 74.3,377.0 75.0,368.0 75.7,377.0 76.4,378.1 77.1,359.6 77.8,378.1 78.6,366.4 79.3,359.6 80.0,375.9 80.7,368.6 81.4,354.6 82.1,364.7 82.8,363.6 83.5,365.8 84.2,365.8 84.9,370.3 85.6,370.8 86.3,369.7 87.1,369.1 87.8,360.8 88.5,369.1 89.2,352.1 89.9,366.9 90.6,363.0 91.3,374.7 92.0,365.2 92.7,374.7 93.4,379.2 94.1,378.7 94.8,380.9 95.6,374.2 96.3,377.5 97.0,368.6 97.7,369.1 98.4,364.1 99.1,371.9 99.8,359.3 100.5,374.7 101.2,374.2 101.9,368.0 102.6,368.0 103.3,343.3 104.1,333.6 104.8,326.2 105.5,329.6 106.2,339.8 106.9,337.0 107.6,340.4 108.3,342.7 109.0,339.8 109.7,342.7 110.4,343.8 111.1,343.3 111.8,342.1 112.6,334.7 113.3,343.3 114.0,343.8 114.7,339.8 115.4,342.7 116.1,329.0 116.8,342.7 117.5,333.6 118.2,345.0 118.9,341.6 119.6,333.6 120.3,340.4 121.1,331.3 121.8,339.3 122.5,329.6 123.2,341.0 123.9,332.4 124.6,323.7 125.3,338.1 126.0,326.2 126.7,339.8 127.4,337.6 128.1,331.9 128.8,340.4 129.6,326.8 130.3,313.7 131.0,320.5 131.7,314.2 132.4,320.5 133.1,302.3 133.8,317.6 134.5,321.6 135.2,317.6 135.9,324.5 136.6,323.3 137.3,326.2 138.1,325.0 138.8,313.1 139.5,321.6 140.2,315.9 140.9,321.6 141.6,317.6 142.3,322.2 143.0,317.1 143.7,323.3 144.4,318.8 145.1,318.2 145.8,309.7 146.6,319.9 147.3,321.6 148.0,317.1 148.7,326.2 149.4,320.5 150.1,318.8 150.8,309.1 151.5,320.5 152.2,321.6 152.9,328.5 153.6,321.6 154.3,314.8 155.1,326.8 155.8,318.8 156.5,311.4 157.2,318.8 157.9,322.8 158.6,317.6 159.3,319.3 160.0,316.5 160.7,313.1 161.4,322.8 162.1,317.1 162.8,318.8 163.6,319.3 164.3,310.2 165.0,322.8 165.7,318.8 166.4,317.6 167.1,317.1 167.8,319.9 168.5,324.5 169.2,323.9 169.9,326.8 170.6,320.5 171.3,321.6 172.1,325.6 172.8,319.9 173.5,317.3 174.2,316.8 174.9,309.4 175.6,322.5 176.3,314.5 177.0,327.0 177.7,320.8 178.4,327.6 179.1,312.2 179.9,325.9 180.6,321.9 181.3,316.8 182.0,321.9 182.7,324.2 183.4,327.6 184.1,323.0 184.8,327.0 185.5,317.9 186.2,323.6 186.9,326.4 187.6,325.3 188.4,313.3 189.1,316.2 189.8,323.6 190.5,320.2 191.2,320.8 191.9,323.0 192.6,315.6 193.3,324.2 194.0,312.8 194.7,318.5 195.4,317.3 196.1,318.5 196.9,319.0 197.6,312.8 198.3,320.8 199.0,313.3 199.7,319.6 200.4,313.3 201.1,317.3 201.8,300.3 202.5,309.9 203.2,304.8 203.9,309.4 204.6,306.5 205.4,312.8 206.1,312.2 206.8,319.6 207.5,312.8 208.2,315.6 208.9,311.1 209.6,312.8 210.3,307.1 211.0,313.9 211.7,316.8 212.4,316.2 213.1,304.2 213.9,312.8 214.6,313.9 215.3,312.8 216.0,312.8 216.7,309.9 217.4,307.1 218.1,309.4 218.8,313.9 219.5,309.9 220.2,310.5 220.9,311.1 221.6,310.5 222.4,317.9 223.1,316.8 223.8,317.9 224.5,308.8 225.2,314.5 225.9,315.6 226.6,313.3 227.3,318.5 228.0,308.8 228.7,316.8 229.4,308.2 230.1,316.8 230.9,312.2 231.6,316.2 232.3,312.2 233.0,313.3 233.7,308.2 234.4,311.6 235.1,320.8 235.8,323.6 236.5,321.9 237.2,323.0 237.9,321.9 238.6,324.7 239.4,321.3 240.1,316.2 240.8,325.9 241.5,324.2 242.2,320.8 242.9,318.5 243.6,315.1 244.3,315.1 245.0,313.9 245.7,312.2 246.4,320.2 247.1,321.9 247.9,326.5 248.6,325.3 249.3,323.6 250.0,324.8 250.7,323.1 251.4,320.8 252.1,320.8 252.8,320.2 253.5,320.8 254.2,331.0 254.9,323.1 255.6,323.6 256.4,335.6 257.1,334.4 257.8,331.0 258.5,325.9 259.2,329.3 259.9,330.5 260.6,323.1 261.3,323.6 262.0,322.5 262.7,321.3 263.4,322.5 264.1,325.3 264.9,326.5 265.6,327.0 266.3,323.6 267.0,327.6 267.7,329.3 268.4,325.9 269.1,333.9 269.8,332.2 270.5,328.8 271.2,334.4 271.9,336.2 272.6,333.3 273.4,329.3 274.1,327.6 274.8,325.3 275.5,322.5 276.2,323.6 276.9,322.5 277.6,319.6 278.3,318.5 279.0,319.6 279.7,320.2 280.4,320.8 281.1,321.3 281.9,322.5 282.6,320.2 283.3,324.2 284.0,320.2 284.7,320.2 285.4,319.1 286.1,328.2 286.8,320.8 287.5,327.0 288.2,322.5 288.9,324.2 289.6,323.6 290.4,325.3 291.1,324.8 291.8,323.6 292.5,325.3 293.2,325.9 293.9,319.1 294.6,325.3 295.3,326.5 296.0,324.2 296.7,327.6 297.4,325.9 298.1,327.0 298.9,328.2 299.6,327.0 300.3,323.1 301.0,325.3 301.7,324.2 302.4,324.8 303.1,319.6 303.8,319.1 304.5,319.6 305.2,321.9 305.9,322.5 306.6,323.1 307.4,324.8 308.1,321.9 308.8,326.5 309.5,322.5 310.2,321.9 310.9,327.0 311.6,331.6 312.3,329.3 313.0,329.3 313.7,324.8 314.4,328.2 315.1,324.2"/><path d="M32.1 426.6h.9M32.8 434.7h.9M33.5 426.3h.9M34.2 426.1h.9M34.9 431.1h.9M35.6 430.6h.9M36.3 435.7h.9M37.0 446.2h.9M37.7 443.2h.9M38.4 452.3h.9M39.1 443.2h.9M39.9 452.8h.9M40.6 424.6h.9M41.3 440.2h.9M42.0 424.6h.9M42.7 433.1h.9M43.4 452.8h.9M44.1 455.3h.9M44.8 443.7h.9M45.5 459.8h.9M46.2 457.8h.9M46.9 438.2h.9M47.6 452.8h.9M48.4 432.6h.9M49.1 433.6h.9M49.8 423.6h.9M50.5 442.7h.9M51.2 438.2h.9M51.9 442.7h.9M52.6 427.6h.9M53.3 434.7h.9M54.0 425.6h.9M54.7 421.1h.9M55.4 425.6h.9M56.1 446.2h.9M56.9 461.9h.9M57.6 430.1h.9M58.3 434.7h.9M59.0 430.1h.9M59.7 444.7h.9M60.4 279.0h.9M61.1 329.2h.9M61.8 363.0h.9M62.5 373.6h.9M63.2 363.6h.9M63.9 359.3h.9M64.6 374.7h.9M65.4 369.1h.9M66.1 375.3h.9M66.8 369.7h.9M67.5 382.0h.9M68.2 365.8h.9M68.9 368.6h.9M69.6 374.7h.9M70.3 384.8h.9M71.0 373.6h.9M71.7 380.9h.9M72.4 357.4h.9M73.1 372.5h.9M73.9 377.0h.9M74.6 368.0h.9M75.3 377.0h.9M76.0 378.1h.9M76.7 359.6h.9M77.4 378.1h.9M78.1 366.4h.9M78.8 359.6h.9M79.5 375.9h.9M80.2 368.6h.9M80.9 354.6h.9M81.6 364.7h.9M82.4 363.6h.9M83.1 365.8h.9M83.8 365.8h.9M84.5 370.3h.9M85.2 370.8h.9M85.9 369.7h.9M86.6 369.1h.9M87.3 360.8h.9M88.0 369.1h.9M88.7 352.1h.9M89.4 366.9h.9M90.1 363.0h.9M90.9 374.7h.9M91.6 365.2h.9M92.3 374.7h.9M93.0 379.2h.9M93.7 378.7h.9M94.4 380.9h.9M95.1 374.2h.9M95.8 377.5h.9M96.5 368.6h.9M97.2 369.1h.9M97.9 364.1h.9M98.6 371.9h.9M99.4 359.3h.9M100.1 374.7h.9M100.8 374.2h.9M101.5 368.0h.9M102.2 368.0h.9M102.9 343.3h.9M103.6 333.6h.9M104.3 326.2h.9M105.0 329.6h.9M105.7 339.8h.9M106.4 337.0h.9M107.1 340.4h.9M107.9 342.7h.9M108.6 339.8h.9M109.3 342.7h.9M110.0 343.8h.9M110.7 343.3h.9M111.4 342.1h.9M112.1 334.7h.9M112.8 343.3h.9M113.5 343.8h.9M114.2 339.8h.9M114.9 342.7h.9M115.6 329.0h.9M116.4 342.7h.9M117.1 333.6h.9M117.8 345.0h.9M118.5 341.6h.9M119.2 333.6h.9M119.9 340.4h.9M120.6 331.3h.9M121.3 339.3h.9M122.0 329.6h.9M122.7 341.0h.9M123.4 332.4h.9M124.1 323.7h.9M124.9 338.1h.9M125.6 326.2h.9M126.3 339.8h.9M127.0 337.6h.9M127.7 331.9h.9M128.4 340.4h.9M129.1 326.8h.9M129.8 313.7h.9M130.5 320.5h.9M131.2 314.2h.9M131.9 320.5h.9M132.6 302.3h.9M133.4 317.6h.9M134.1 321.6h.9M134.8 317.6h.9M135.5 324.5h.9M136.2 323.3h.9M136.9 326.2h.9M137.6 325.0h.9M138.3 313.1h.9M139.0 321.6h.9M139.7 315.9h.9M140.4 321.6h.9M141.1 317.6h.9M141.9 322.2h.9M142.6 317.1h.9M143.3 323.3h.9M144.0 318.8h.9M144.7 318.2h.9M145.4 309.7h.9M146.1 319.9h.9M146.8 321.6h.9M147.5 317.1h.9M148.2 326.2h.9M148.9 320.5h.9M149.6 318.8h.9M150.4 309.1h.9M151.1 320.5h.9M151.8 321.6h.9M152.5 328.5h.9M153.2 321.6h.9M153.9 314.8h.9M154.6 326.8h.9M155.3 318.8h.9M156.0 311.4h.9M156.7 318.8h.9M157.4 322.8h.9M158.1 317.6h.9M158.9 319.3h.9M159.6 316.5h.9M160.3 313.1h.9M161.0 322.8h.9M161.7 317.1h.9M162.4 318.8h.9M163.1 319.3h.9M163.8 310.2h.9M164.5 322.8h.9M165.2 318.8h.9M165.9 317.6h.9M166.6 317.1h.9M167.4 319.9h.9M168.1 324.5h.9M168.8 323.9h.9M169.5 326.8h.9M170.2 320.5h.9M170.9 321.6h.9M171.6 325.6h.9M172.3 319.9h.9M173.0 317.3h.9M173.7 316.8h.9M174.4 309.4h.9M175.2 322.5h.9M175.9 314.5h.9M176.6 327.0h.9M177.3 320.8h.9M178.0 327.6h.9M178.7 312.2h.9M179.4 325.9h.9M180.1 321.9h.9M180.8 316.8h.9M181.5 321.9h.9M182.2 324.2h.9M182.9 327.6h.9M183.7 323.0h.9M184.4 327.0h.9M185.1 317.9h.9M185.8 323.6h.9M186.5 326.4h.9M187.2 325.3h.9M187.9 313.3h.9M188.6 316.2h.9M189.3 323.6h.9M190.0 320.2h.9M190.7 320.8h.9M191.4 323.0h.9M192.2 315.6h.9M192.9 324.2h.9M193.6 312.8h.9M194.3 318.5h.9M195.0 317.3h.9M195.7 318.5h.9M196.4 319.0h.9M197.1 312.8h.9M197.8 320.8h.9M198.5 313.3h.9M199.2 319.6h.9M199.9 313.3h.9M200.7 317.3h.9M201.4 300.3h.9M202.1 309.9h.9M202.8 304.8h.9M203.5 309.4h.9M204.2 306.5h.9M204.9 312.8h.9M205.6 312.2h.9M206.3 319.6h.9M207.0 312.8h.9M207.7 315.6h.9M208.4 311.1h.9M209.2 312.8h.9M209.9 307.1h.9M210.6 313.9h.9M211.3 316.8h.9M212.0 316.2h.9M212.7 304.2h.9M213.4 312.8h.9M214.1 313.9h.9M214.8 312.8h.9M215.5 312.8h.9M216.2 309.9h.9M216.9 307.1h.9M217.7 309.4h.9M218.4 313.9h.9M219.1 309.9h.9M219.8 310.5h.9M220.5 311.1h.9M221.2 310.5h.9M221.9 317.9h.9M222.6 316.8h.9M223.3 317.9h.9M224.0 308.8h.9M224.7 314.5h.9M225.4 315.6h.9M226.2 313.3h.9M226.9 318.5h.9M227.6 308.8h.9M228.3 316.8h.9M229.0 308.2h.9M229.7 316.8h.9M230.4 312.2h.9M231.1 316.2h.9M231.8 312.2h.9M232.5 313.3h.9M233.2 308.2h.9M233.9 311.6h.9M234.7 320.8h.9M235.4 323.6h.9M236.1 321.9h.9M236.8 323.0h.9M237.5 321.9h.9M238.2 324.7h.9M238.9 321.3h.9M239.6 316.2h.9M240.3 325.9h.9M241.0 324.2h.9M241.7 320.8h.9M242.4 318.5h.9M243.2 315.1h.9M243.9 315.1h.9M244.6 313.9h.9M245.3 312.2h.9M246.0 320.2h.9M246.7 321.9h.9M247.4 326.5h.9M248.1 325.3h.9M248.8 323.6h.9M249.5 324.8h.9M250.2 323.1h.9M250.9 320.8h.9M251.7 320.8h.9M252.4 320.2h.9M253.1 320.8h.9M253.8 331.0h.9M254.5 323.1h.9M255.2 323.6h.9M255.9 335.6h.9M256.6 334.4h.9M257.3 331.0h.9M258.0 325.9h.9M258.7 329.3h.9M259.4 330.5h.9M260.2 323.1h.9M260.9 323.6h.9M261.6 322.5h.9M262.3 321.3h.9M263.0 322.5h.9M263.7 325.3h.9M264.4 326.5h.9M265.1 327.0h.9M265.8 323.6h.9M266.5 327.6h.9M267.2 329.3h.9M267.9 325.9h.9M268.7 333.9h.9M269.4 332.2h.9M270.1 328.8h.9M270.8 334.4h.9M271.5 336.2h.9M272.2 333.3h.9M272.9 329.3h.9M273.6 327.6h.9M274.3 325.3h.9M275.0 322.5h.9M275.7 323.6h.9M276.4 322.5h.9M277.2 319.6h.9M277.9 318.5h.9M278.6 319.6h.9M279.3 320.2h.9M280.0 320.8h.9M280.7 321.3h.9M281.4 322.5h.9M282.1 320.2h.9M282.8 324.2h.9M283.5 320.2h.9M284.2 320.2h.9M284.9 319.1h.9M285.7 328.2h.9M286.4 320.8h.9M287.1 327.0h.9M287.8 322.5h.9M288.5 324.2h.9M289.2 323.6h.9M289.9 325.3h.9M290.6 324.8h.9M291.3 323.6h.9M292.0 325.3h.9M292.7 325.9h.9M293.4 319.1h.9M294.2 325.3h.9M294.9 326.5h.9M295.6 324.2h.9M296.3 327.6h.9M297.0 325.9h.9M297.7 327.0h.9M298.4 328.2h.9M299.1 327.0h.9M299.8 323.1h.9M300.5 325.3h.9M301.2 324.2h.9M301.9 324.8h.9M302.7 319.6h.9M303.4 319.1h.9M304.1 319.6h.9M304.8 321.9h.9M305.5 322.5h.9M306.2 323.1h.9M306.9 324.8h.9M307.6 321.9h.9M308.3 326.5h.9M309.0 322.5h.9M309.7 321.9h.9M310.4 327.0h.9M311.2 331.6h.9M311.9 329.3h.9M312.6 329.3h.9M313.3 324.8h.9M314.0 328.2h.9M314.7 324.2h.9" stroke="#c8414f" stroke-width="2.45" stroke-linecap="round" fill="none"/><polyline fill="none" stroke="#262626" stroke-width="0.95" points="31.8,379.7 60.1,379.7 60.1,335.5 130.4,335.5 130.4,323.1 201.6,323.1 201.6,314.4 315.1,314.4"/><rect x="31.8" y="272.05" width="283.3" height="211.6" fill="none" stroke="#3a3a3a" stroke-width="1.05"/><path d="M31.8 483.65v-3.6M31.8 272.05v3.6M67.2 483.65v-3.6M67.2 272.05v3.6M102.6 483.65v-3.6M102.6 272.05v3.6M138.1 483.65v-3.6M138.1 272.05v3.6M173.5 483.65v-3.6M173.5 272.05v3.6M208.9 483.65v-3.6M208.9 272.05v3.6M244.3 483.65v-3.6M244.3 272.05v3.6M279.7 483.65v-3.6M279.7 272.05v3.6M315.1 483.65v-3.6M315.1 272.05v3.6M31.8 483.6h3.6M315.15 483.6h-3.6M31.8 460.1h3.6M315.15 460.1h-3.6M31.8 436.6h3.6M315.15 436.6h-3.6M31.8 413.1h3.6M315.15 413.1h-3.6M31.8 389.6h3.6M315.15 389.6h-3.6M31.8 366.1h3.6M315.15 366.1h-3.6M31.8 342.6h3.6M315.15 342.6h-3.6M31.8 319.1h3.6M315.15 319.1h-3.6M31.8 295.6h3.6M315.15 295.6h-3.6M31.8 272.1h3.6M315.15 272.1h-3.6" stroke="#3a3a3a" stroke-width="0.95" fill="none"/><g font-family="Liberation Sans, Arial, sans-serif" font-size="7.75" fill="#262626" stroke="#262626" stroke-width="0.12"><text transform="translate(31.8 495.1) scale(0.965 1)" text-anchor="middle">0</text><text transform="translate(67.2 495.1) scale(0.965 1)" text-anchor="middle">50</text><text transform="translate(102.6 495.1) scale(0.965 1)" text-anchor="middle">100</text><text transform="translate(138.1 495.1) scale(0.965 1)" text-anchor="middle">150</text><text transform="translate(173.5 495.1) scale(0.965 1)" text-anchor="middle">200</text><text transform="translate(208.9 495.1) scale(0.965 1)" text-anchor="middle">250</text><text transform="translate(244.3 495.1) scale(0.965 1)" text-anchor="middle">300</text><text transform="translate(279.7 495.1) scale(0.965 1)" text-anchor="middle">350</text><text transform="translate(315.1 495.1) scale(0.965 1)" text-anchor="middle">400</text><text transform="translate(28.5 486.3) scale(0.965 1)" text-anchor="end">0.92</text><text transform="translate(28.5 462.8) scale(0.965 1)" text-anchor="end">0.93</text><text transform="translate(28.5 439.3) scale(0.965 1)" text-anchor="end">0.94</text><text transform="translate(28.5 415.8) scale(0.965 1)" text-anchor="end">0.95</text><text transform="translate(28.5 392.3) scale(0.965 1)" text-anchor="end">0.96</text><text transform="translate(28.5 368.7) scale(0.965 1)" text-anchor="end">0.97</text><text transform="translate(28.5 345.2) scale(0.965 1)" text-anchor="end">0.98</text><text transform="translate(28.5 321.7) scale(0.965 1)" text-anchor="end">0.99</text><text transform="translate(28.5 298.2) scale(0.965 1)" text-anchor="end">1</text><text transform="translate(28.5 274.7) scale(0.965 1)" text-anchor="end">1.01</text><text x="173.5" y="505.8" text-anchor="middle" font-size="8.5">Samples</text><text transform="translate(8.7 378.4) rotate(-90)" text-anchor="middle" font-size="9">D</text></g><rect x="274.15" y="368.5" width="35.6" height="19" fill="#fff" stroke="#1a1a1a" stroke-width="1.05"/><path d="M276.34999999999997 373.5h23.4" stroke="#c8414f" stroke-width="0.95"/><circle cx="288.04999999999995" cy="373.5" r="1.2" fill="#c8414f"/><path d="M276.34999999999997 382.1h23.4" stroke="#333" stroke-width="0.95"/><g font-family="Liberation Serif, serif" font-style="italic" font-size="7.3" fill="#1e1e1e"><text x="301.85" y="375.70" textLength="5.4" lengthAdjust="spacingAndGlyphs">D</text><text x="301.85" y="384.20" textLength="4.9" lengthAdjust="spacingAndGlyphs">R</text></g><text x="116.2" y="531.8" textLength="89.4" lengthAdjust="spacingAndGlyphs" font-family="Liberation Serif, serif" font-size="20.1" fill="#1e1e1e">DWSVDD</text></g><g><polyline fill="none" stroke="#cc4856" stroke-width="0.95" stroke-linejoin="round" points="396.3,431.6 397.0,439.7 397.7,431.1 398.4,430.6 399.1,434.1 399.8,434.6 400.6,441.7 401.3,450.7 402.0,447.7 402.7,457.8 403.4,449.2 404.1,458.8 404.8,431.6 405.5,447.2 406.2,431.6 406.9,437.1 407.6,457.3 408.3,459.3 409.0,447.7 409.8,463.8 410.5,461.8 411.2,441.7 411.9,456.3 412.6,434.1 413.3,442.2 414.0,430.6 414.7,446.2 415.4,441.7 416.1,445.2 416.8,433.1 417.5,436.1 418.2,430.6 418.9,430.6 419.7,431.1 420.4,446.7 421.1,459.3 421.8,434.6 422.5,439.7 423.2,436.6 423.9,448.2 424.6,295.5 425.3,347.6 426.0,379.2 426.7,387.3 427.4,379.7 428.1,376.4 428.9,387.3 429.6,383.2 430.3,387.8 431.0,384.8 431.7,393.3 432.4,380.7 433.1,382.2 433.8,389.3 434.5,396.3 435.2,387.3 435.9,393.3 436.6,374.2 437.3,384.8 438.1,389.8 438.8,382.2 439.5,388.8 440.2,390.3 440.9,377.2 441.6,391.3 442.3,381.2 443.0,376.7 443.7,389.3 444.4,382.7 445.1,374.2 445.8,380.2 446.5,379.7 447.2,382.2 448.0,382.2 448.7,384.8 449.4,385.3 450.1,387.8 450.8,384.3 451.5,379.7 452.2,384.8 452.9,371.7 453.6,382.7 454.3,380.2 455.0,390.8 455.7,381.7 456.4,389.8 457.2,393.8 457.9,393.3 458.6,394.8 459.3,388.8 460.0,391.3 460.7,384.8 461.4,385.3 462.1,381.2 462.8,387.8 463.5,375.7 464.2,388.8 464.9,388.8 465.6,384.8 466.4,385.3 467.1,360.4 467.8,351.3 468.5,347.3 469.2,349.6 469.9,359.3 470.6,357.0 471.3,358.7 472.0,360.4 472.7,357.6 473.4,360.4 474.1,361.6 474.8,361.0 475.5,359.3 476.3,355.3 477.0,361.0 477.7,361.6 478.4,358.2 479.1,359.9 479.8,347.9 480.5,361.0 481.2,354.2 481.9,362.1 482.6,359.9 483.3,354.2 484.0,358.7 484.7,351.3 485.5,357.6 486.2,351.9 486.9,358.7 487.6,352.5 488.3,346.2 489.0,357.6 489.7,346.8 490.4,359.3 491.1,356.4 491.8,353.0 492.5,358.7 493.2,347.9 493.9,337.1 494.7,342.8 495.4,336.5 496.1,342.2 496.8,339.9 497.5,344.5 498.2,341.6 498.9,341.1 499.6,343.9 500.3,342.8 501.0,344.5 501.7,342.8 502.4,334.8 503.1,341.1 503.8,338.8 504.6,341.6 505.3,338.8 506.0,342.2 506.7,339.4 507.4,343.9 508.1,338.8 508.8,338.2 509.5,333.7 510.2,339.9 510.9,341.6 511.6,338.2 512.3,343.3 513.0,339.9 513.8,338.8 514.5,328.2 515.2,339.4 515.9,341.1 516.6,344.5 517.3,339.9 518.0,337.1 518.7,344.5 519.4,339.4 520.1,334.2 520.8,338.8 521.5,342.8 522.2,338.2 523.0,339.9 523.7,337.7 524.4,336.5 525.1,342.2 525.8,337.1 526.5,338.8 527.2,338.8 527.9,334.2 528.6,341.1 529.3,338.2 530.0,338.2 530.7,337.7 531.4,339.4 532.1,343.3 532.9,343.9 533.6,346.8 534.3,342.2 535.0,343.3 535.7,345.1 536.4,341.1 537.1,339.6 537.8,338.5 538.5,332.8 539.2,342.5 539.9,336.8 540.6,345.3 541.3,340.8 542.1,347.0 542.8,334.5 543.5,344.8 544.2,341.9 544.9,337.3 545.6,341.9 546.3,344.2 547.0,347.0 547.7,343.0 548.4,345.9 549.1,339.6 549.8,343.0 550.5,345.3 551.2,344.2 552.0,335.1 552.7,337.3 553.4,343.0 554.1,340.8 554.8,340.8 555.5,343.0 556.2,337.3 556.9,344.2 557.6,335.1 558.3,339.6 559.0,338.5 559.7,339.6 560.4,340.2 561.2,336.2 561.9,341.9 562.6,336.8 563.3,341.3 564.0,336.8 564.7,339.6 565.4,326.0 566.1,333.4 566.8,329.9 567.5,333.9 568.2,331.1 568.9,336.8 569.6,336.2 570.4,343.6 571.1,336.8 571.8,338.5 572.5,334.5 573.2,336.2 573.9,332.2 574.6,337.3 575.3,340.8 576.0,339.6 576.7,329.4 577.4,336.8 578.1,338.5 578.8,337.3 579.5,337.3 580.3,335.1 581.0,332.8 581.7,334.5 582.4,338.5 583.1,335.1 583.8,335.6 584.5,336.2 585.2,335.6 585.9,341.9 586.6,340.8 587.3,341.9 588.0,333.9 588.7,339.1 589.5,339.6 590.2,337.9 590.9,342.5 591.6,333.9 592.3,340.8 593.0,332.8 593.7,340.8 594.4,336.8 595.1,340.2 595.8,336.8 596.5,337.9 597.2,332.2 597.9,335.1 598.7,343.0 599.4,345.9 600.1,344.2 600.8,345.3 601.5,344.2 602.2,346.5 602.9,344.2 603.6,338.5 604.3,347.6 605.0,346.5 605.7,343.6 606.4,341.3 607.1,339.6 607.9,337.9 608.6,336.8 609.3,336.2 610.0,342.5 610.7,346.5 611.4,349.9 612.1,348.8 612.8,347.6 613.5,348.2 614.2,346.5 614.9,344.8 615.6,344.8 616.3,344.2 617.0,345.3 617.8,352.8 618.5,346.5 619.2,347.6 619.9,357.9 620.6,356.2 621.3,352.8 622.0,349.3 622.7,351.6 623.4,352.2 624.1,346.5 624.8,347.1 625.5,345.9 626.2,345.3 627.0,346.5 627.7,348.2 628.4,348.8 629.1,349.3 629.8,346.5 630.5,349.3 631.2,350.5 631.9,348.8 632.6,353.3 633.3,352.2 634.0,349.9 634.7,353.9 635.4,355.0 636.2,352.8 636.9,350.5 637.6,349.3 638.3,347.6 639.0,345.9 639.7,346.5 640.4,345.3 641.1,343.6 641.8,343.1 642.5,344.2 643.2,344.2 643.9,344.8 644.6,345.3 645.3,346.5 646.1,344.8 646.8,347.6 647.5,344.8 648.2,344.8 648.9,344.2 649.6,350.5 650.3,345.3 651.0,349.3 651.7,346.5 652.4,347.6 653.1,347.1 653.8,348.2 654.5,347.6 655.3,347.1 656.0,348.2 656.7,348.8 657.4,343.6 658.1,348.2 658.8,348.8 659.5,347.1 660.2,349.3 660.9,348.2 661.6,349.3 662.3,349.9 663.0,348.8 663.7,346.5 664.5,347.6 665.2,347.1 665.9,347.6 666.6,344.2 667.3,343.1 668.0,344.2 668.7,345.9 669.4,345.9 670.1,346.5 670.8,347.6 671.5,345.9 672.2,348.8 672.9,346.5 673.6,345.3 674.4,349.3 675.1,353.3 675.8,351.6 676.5,351.6 677.2,348.8 677.9,350.5 678.6,347.6"/><path d="M395.9 431.6h.9M396.6 439.7h.9M397.3 431.1h.9M398.0 430.6h.9M398.7 434.1h.9M399.4 434.6h.9M400.1 441.7h.9M400.8 450.7h.9M401.5 447.7h.9M402.2 457.8h.9M402.9 449.2h.9M403.6 458.8h.9M404.3 431.6h.9M405.1 447.2h.9M405.8 431.6h.9M406.5 437.1h.9M407.2 457.3h.9M407.9 459.3h.9M408.6 447.7h.9M409.3 463.8h.9M410.0 461.8h.9M410.7 441.7h.9M411.4 456.3h.9M412.1 434.1h.9M412.8 442.2h.9M413.5 430.6h.9M414.3 446.2h.9M415.0 441.7h.9M415.7 445.2h.9M416.4 433.1h.9M417.1 436.1h.9M417.8 430.6h.9M418.5 430.6h.9M419.2 431.1h.9M419.9 446.7h.9M420.6 459.3h.9M421.3 434.6h.9M422.0 439.7h.9M422.7 436.6h.9M423.5 448.2h.9M424.2 295.5h.9M424.9 347.6h.9M425.6 379.2h.9M426.3 387.3h.9M427.0 379.7h.9M427.7 376.4h.9M428.4 387.3h.9M429.1 383.2h.9M429.8 387.8h.9M430.5 384.8h.9M431.2 393.3h.9M431.9 380.7h.9M432.6 382.2h.9M433.4 389.3h.9M434.1 396.3h.9M434.8 387.3h.9M435.5 393.3h.9M436.2 374.2h.9M436.9 384.8h.9M437.6 389.8h.9M438.3 382.2h.9M439.0 388.8h.9M439.7 390.3h.9M440.4 377.2h.9M441.1 391.3h.9M441.8 381.2h.9M442.6 376.7h.9M443.3 389.3h.9M444.0 382.7h.9M444.7 374.2h.9M445.4 380.2h.9M446.1 379.7h.9M446.8 382.2h.9M447.5 382.2h.9M448.2 384.8h.9M448.9 385.3h.9M449.6 387.8h.9M450.3 384.3h.9M451.0 379.7h.9M451.8 384.8h.9M452.5 371.7h.9M453.2 382.7h.9M453.9 380.2h.9M454.6 390.8h.9M455.3 381.7h.9M456.0 389.8h.9M456.7 393.8h.9M457.4 393.3h.9M458.1 394.8h.9M458.8 388.8h.9M459.5 391.3h.9M460.2 384.8h.9M460.9 385.3h.9M461.7 381.2h.9M462.4 387.8h.9M463.1 375.7h.9M463.8 388.8h.9M464.5 388.8h.9M465.2 384.8h.9M465.9 385.3h.9M466.6 360.4h.9M467.3 351.3h.9M468.0 347.3h.9M468.7 349.6h.9M469.4 359.3h.9M470.1 357.0h.9M470.9 358.7h.9M471.6 360.4h.9M472.3 357.6h.9M473.0 360.4h.9M473.7 361.6h.9M474.4 361.0h.9M475.1 359.3h.9M475.8 355.3h.9M476.5 361.0h.9M477.2 361.6h.9M477.9 358.2h.9M478.6 359.9h.9M479.3 347.9h.9M480.1 361.0h.9M480.8 354.2h.9M481.5 362.1h.9M482.2 359.9h.9M482.9 354.2h.9M483.6 358.7h.9M484.3 351.3h.9M485.0 357.6h.9M485.7 351.9h.9M486.4 358.7h.9M487.1 352.5h.9M487.8 346.2h.9M488.5 357.6h.9M489.2 346.8h.9M490.0 359.3h.9M490.7 356.4h.9M491.4 353.0h.9M492.1 358.7h.9M492.8 347.9h.9M493.5 337.1h.9M494.2 342.8h.9M494.9 336.5h.9M495.6 342.2h.9M496.3 339.9h.9M497.0 344.5h.9M497.7 341.6h.9M498.4 341.1h.9M499.2 343.9h.9M499.9 342.8h.9M500.6 344.5h.9M501.3 342.8h.9M502.0 334.8h.9M502.7 341.1h.9M503.4 338.8h.9M504.1 341.6h.9M504.8 338.8h.9M505.5 342.2h.9M506.2 339.4h.9M506.9 343.9h.9M507.6 338.8h.9M508.4 338.2h.9M509.1 333.7h.9M509.8 339.9h.9M510.5 341.6h.9M511.2 338.2h.9M511.9 343.3h.9M512.6 339.9h.9M513.3 338.8h.9M514.0 328.2h.9M514.7 339.4h.9M515.4 341.1h.9M516.1 344.5h.9M516.8 339.9h.9M517.5 337.1h.9M518.3 344.5h.9M519.0 339.4h.9M519.7 334.2h.9M520.4 338.8h.9M521.1 342.8h.9M521.8 338.2h.9M522.5 339.9h.9M523.2 337.7h.9M523.9 336.5h.9M524.6 342.2h.9M525.3 337.1h.9M526.0 338.8h.9M526.7 338.8h.9M527.5 334.2h.9M528.2 341.1h.9M528.9 338.2h.9M529.6 338.2h.9M530.3 337.7h.9M531.0 339.4h.9M531.7 343.3h.9M532.4 343.9h.9M533.1 346.8h.9M533.8 342.2h.9M534.5 343.3h.9M535.2 345.1h.9M535.9 341.1h.9M536.6 339.6h.9M537.4 338.5h.9M538.1 332.8h.9M538.8 342.5h.9M539.5 336.8h.9M540.2 345.3h.9M540.9 340.8h.9M541.6 347.0h.9M542.3 334.5h.9M543.0 344.8h.9M543.7 341.9h.9M544.4 337.3h.9M545.1 341.9h.9M545.8 344.2h.9M546.6 347.0h.9M547.3 343.0h.9M548.0 345.9h.9M548.7 339.6h.9M549.4 343.0h.9M550.1 345.3h.9M550.8 344.2h.9M551.5 335.1h.9M552.2 337.3h.9M552.9 343.0h.9M553.6 340.8h.9M554.3 340.8h.9M555.0 343.0h.9M555.8 337.3h.9M556.5 344.2h.9M557.2 335.1h.9M557.9 339.6h.9M558.6 338.5h.9M559.3 339.6h.9M560.0 340.2h.9M560.7 336.2h.9M561.4 341.9h.9M562.1 336.8h.9M562.8 341.3h.9M563.5 336.8h.9M564.2 339.6h.9M565.0 326.0h.9M565.7 333.4h.9M566.4 329.9h.9M567.1 333.9h.9M567.8 331.1h.9M568.5 336.8h.9M569.2 336.2h.9M569.9 343.6h.9M570.6 336.8h.9M571.3 338.5h.9M572.0 334.5h.9M572.7 336.2h.9M573.4 332.2h.9M574.1 337.3h.9M574.9 340.8h.9M575.6 339.6h.9M576.3 329.4h.9M577.0 336.8h.9M577.7 338.5h.9M578.4 337.3h.9M579.1 337.3h.9M579.8 335.1h.9M580.5 332.8h.9M581.2 334.5h.9M581.9 338.5h.9M582.6 335.1h.9M583.3 335.6h.9M584.1 336.2h.9M584.8 335.6h.9M585.5 341.9h.9M586.2 340.8h.9M586.9 341.9h.9M587.6 333.9h.9M588.3 339.1h.9M589.0 339.6h.9M589.7 337.9h.9M590.4 342.5h.9M591.1 333.9h.9M591.8 340.8h.9M592.5 332.8h.9M593.2 340.8h.9M594.0 336.8h.9M594.7 340.2h.9M595.4 336.8h.9M596.1 337.9h.9M596.8 332.2h.9M597.5 335.1h.9M598.2 343.0h.9M598.9 345.9h.9M599.6 344.2h.9M600.3 345.3h.9M601.0 344.2h.9M601.7 346.5h.9M602.4 344.2h.9M603.2 338.5h.9M603.9 347.6h.9M604.6 346.5h.9M605.3 343.6h.9M606.0 341.3h.9M606.7 339.6h.9M607.4 337.9h.9M608.1 336.8h.9M608.8 336.2h.9M609.5 342.5h.9M610.2 346.5h.9M610.9 349.9h.9M611.6 348.8h.9M612.4 347.6h.9M613.1 348.2h.9M613.8 346.5h.9M614.5 344.8h.9M615.2 344.8h.9M615.9 344.2h.9M616.6 345.3h.9M617.3 352.8h.9M618.0 346.5h.9M618.7 347.6h.9M619.4 357.9h.9M620.1 356.2h.9M620.8 352.8h.9M621.5 349.3h.9M622.3 351.6h.9M623.0 352.2h.9M623.7 346.5h.9M624.4 347.1h.9M625.1 345.9h.9M625.8 345.3h.9M626.5 346.5h.9M627.2 348.2h.9M627.9 348.8h.9M628.6 349.3h.9M629.3 346.5h.9M630.0 349.3h.9M630.7 350.5h.9M631.5 348.8h.9M632.2 353.3h.9M632.9 352.2h.9M633.6 349.9h.9M634.3 353.9h.9M635.0 355.0h.9M635.7 352.8h.9M636.4 350.5h.9M637.1 349.3h.9M637.8 347.6h.9M638.5 345.9h.9M639.2 346.5h.9M639.9 345.3h.9M640.7 343.6h.9M641.4 343.1h.9M642.1 344.2h.9M642.8 344.2h.9M643.5 344.8h.9M644.2 345.3h.9M644.9 346.5h.9M645.6 344.8h.9M646.3 347.6h.9M647.0 344.8h.9M647.7 344.8h.9M648.4 344.2h.9M649.1 350.5h.9M649.8 345.3h.9M650.6 349.3h.9M651.3 346.5h.9M652.0 347.6h.9M652.7 347.1h.9M653.4 348.2h.9M654.1 347.6h.9M654.8 347.1h.9M655.5 348.2h.9M656.2 348.8h.9M656.9 343.6h.9M657.6 348.2h.9M658.3 348.8h.9M659.0 347.1h.9M659.8 349.3h.9M660.5 348.2h.9M661.2 349.3h.9M661.9 349.9h.9M662.6 348.8h.9M663.3 346.5h.9M664.0 347.6h.9M664.7 347.1h.9M665.4 347.6h.9M666.1 344.2h.9M666.8 343.1h.9M667.5 344.2h.9M668.2 345.9h.9M669.0 345.9h.9M669.7 346.5h.9M670.4 347.6h.9M671.1 345.9h.9M671.8 348.8h.9M672.5 346.5h.9M673.2 345.3h.9M673.9 349.3h.9M674.6 353.3h.9M675.3 351.6h.9M676.0 351.6h.9M676.7 348.8h.9M677.4 350.5h.9M678.1 347.6h.9" stroke="#c8414f" stroke-width="2.45" stroke-linecap="round" fill="none"/><polyline fill="none" stroke="#262626" stroke-width="0.95" points="395.6,397.1 423.9,397.1 423.9,359.3 494.1,359.3 494.1,346.6 565.2,346.6 565.2,340.8 678.6,340.8"/><rect x="395.6" y="272.0" width="283.0" height="211.6" fill="none" stroke="#3a3a3a" stroke-width="1.05"/><path d="M395.6 483.6v-3.6M395.6 272.0v3.6M431.0 483.6v-3.6M431.0 272.0v3.6M466.4 483.6v-3.6M466.4 272.0v3.6M501.7 483.6v-3.6M501.7 272.0v3.6M537.1 483.6v-3.6M537.1 272.0v3.6M572.5 483.6v-3.6M572.5 272.0v3.6M607.9 483.6v-3.6M607.9 272.0v3.6M643.2 483.6v-3.6M643.2 272.0v3.6M678.6 483.6v-3.6M678.6 272.0v3.6M395.6 483.6h3.6M678.6 483.6h-3.6M395.6 457.2h3.6M678.6 457.2h-3.6M395.6 430.7h3.6M678.6 430.7h-3.6M395.6 404.2h3.6M678.6 404.2h-3.6M395.6 377.8h3.6M678.6 377.8h-3.6M395.6 351.4h3.6M678.6 351.4h-3.6M395.6 324.9h3.6M678.6 324.9h-3.6M395.6 298.4h3.6M678.6 298.4h-3.6M395.6 272.0h3.6M678.6 272.0h-3.6" stroke="#3a3a3a" stroke-width="0.95" fill="none"/><g font-family="Liberation Sans, Arial, sans-serif" font-size="7.75" fill="#262626" stroke="#262626" stroke-width="0.12"><text transform="translate(395.6 495.1) scale(0.965 1)" text-anchor="middle">0</text><text transform="translate(431.0 495.1) scale(0.965 1)" text-anchor="middle">50</text><text transform="translate(466.4 495.1) scale(0.965 1)" text-anchor="middle">100</text><text transform="translate(501.7 495.1) scale(0.965 1)" text-anchor="middle">150</text><text transform="translate(537.1 495.1) scale(0.965 1)" text-anchor="middle">200</text><text transform="translate(572.5 495.1) scale(0.965 1)" text-anchor="middle">250</text><text transform="translate(607.9 495.1) scale(0.965 1)" text-anchor="middle">300</text><text transform="translate(643.2 495.1) scale(0.965 1)" text-anchor="middle">350</text><text transform="translate(678.6 495.1) scale(0.965 1)" text-anchor="middle">400</text><text transform="translate(392.3 486.2) scale(0.965 1)" text-anchor="end">0.94</text><text transform="translate(392.3 459.8) scale(0.965 1)" text-anchor="end">0.95</text><text transform="translate(392.3 433.3) scale(0.965 1)" text-anchor="end">0.96</text><text transform="translate(392.3 406.9) scale(0.965 1)" text-anchor="end">0.97</text><text transform="translate(392.3 380.4) scale(0.965 1)" text-anchor="end">0.98</text><text transform="translate(392.3 354.0) scale(0.965 1)" text-anchor="end">0.99</text><text transform="translate(392.3 327.5) scale(0.965 1)" text-anchor="end">1</text><text transform="translate(392.3 301.1) scale(0.965 1)" text-anchor="end">1.01</text><text transform="translate(392.3 274.6) scale(0.965 1)" text-anchor="end">1.02</text><text x="537.1" y="505.7" text-anchor="middle" font-size="8.5">Samples</text><text transform="translate(372.5 378.3) rotate(-90)" text-anchor="middle" font-size="9">D</text></g><rect x="637.6" y="368.5" width="35.6" height="19" fill="#fff" stroke="#1a1a1a" stroke-width="1.05"/><path d="M639.8000000000001 373.5h23.4" stroke="#c8414f" stroke-width="0.95"/><circle cx="651.5" cy="373.5" r="1.2" fill="#c8414f"/><path d="M639.8000000000001 382.1h23.4" stroke="#333" stroke-width="0.95"/><g font-family="Liberation Serif, serif" font-style="italic" font-size="7.3" fill="#1e1e1e"><text x="665.30" y="375.70" textLength="5.4" lengthAdjust="spacingAndGlyphs">D</text><text x="665.30" y="384.20" textLength="4.9" lengthAdjust="spacingAndGlyphs">R</text></g><text x="473.5" y="531.8" textLength="100.4" lengthAdjust="spacingAndGlyphs" font-family="Liberation Serif, serif" font-size="20.1" fill="#1e1e1e">DFWSVDD</text></g><rect x="0" y="506" width="1" height="1.5" fill="#8c8c80"/></svg></body></html>
